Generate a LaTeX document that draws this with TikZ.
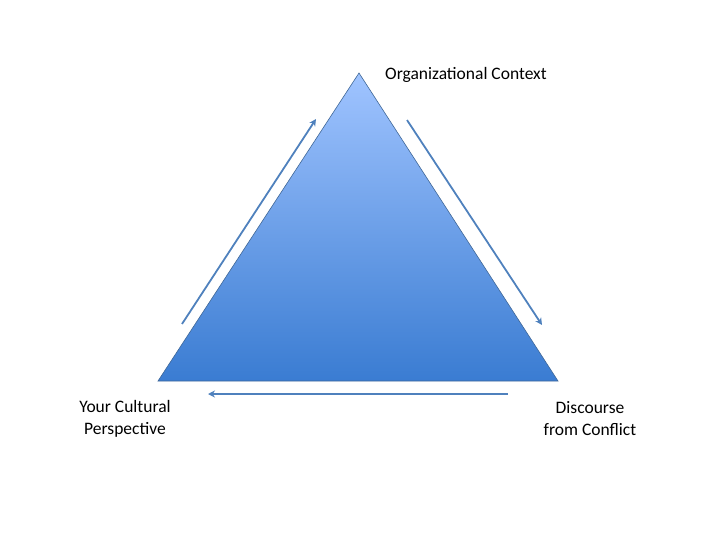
\documentclass[tikz,border=0pt]{standalone}
\usepackage{fontspec}
\setmainfont{Carlito}
\usetikzlibrary{arrows.meta}
\begin{document}
\begin{tikzpicture}[x=1pt,y=-1pt,
  arr/.style={draw=arrc,line width=1.8pt,-{Stealth[length=7pt,width=7pt]}},
  lbl/.style={font=\fontsize{17.5}{22}\selectfont,align=center,inner sep=0pt}]
\definecolor{arrc}{RGB}{79,129,189}
\definecolor{ttop}{RGB}{160,196,255}
\definecolor{tbot}{RGB}{58,124,210}
\useasboundingbox (0,0) rectangle (720,540);
\coordinate (A) at (359,73);
\coordinate (B) at (158,381);
\coordinate (C) at (558,381);
\shade[top color=ttop,bottom color=tbot] (A) -- (B) -- (C) -- cycle;
\draw[draw=arrc!80!black,line width=0.6pt] (A) -- (B) -- (C) -- cycle;
\coordinate (l1) at (182,324); \coordinate (l2) at (316,119);
\coordinate (r1) at (407,120); \coordinate (r2) at (542,325);
\coordinate (b1) at (508,394); \coordinate (b2) at (208,394);
\draw[arr] (l1) -- (l2);
\draw[arr] (r1) -- (r2);
\draw[arr] (b1) -- (b2);
\node[lbl,anchor=west] (ctx) at (385,75) {Organizational Context};
\node[lbl] (you) at (125,419) {Your Cultural\\Perspective};
\node[lbl] (dis) at (590,419) {Discourse\\from Conflict};
\end{tikzpicture}
\end{document}
